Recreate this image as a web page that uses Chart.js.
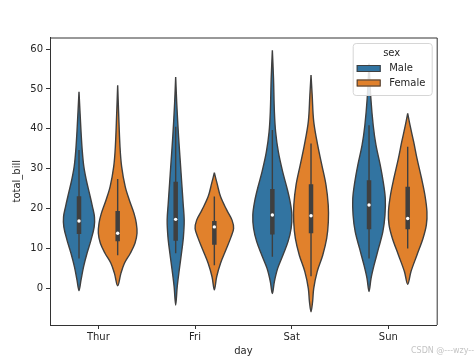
<!DOCTYPE html>
<html>
<head>
<meta charset="utf-8">
<script src="https://cdn.jsdelivr.net/npm/chart.js@4/dist/chart.umd.min.js"></script>
<style>
  body { margin: 0; background: #fff; }
</style>
</head>
<body>
<canvas id="myChart" width="474" height="360"></canvas>
<script>
	// categories / series
	var days = ['Thur', 'Fri', 'Sat', 'Sun'];
	var sexes = ['Male', 'Female'];
	var yTicks = [0, 10, 20, 30, 40, 50, 60];

	// violin outlines: total_bill levels (top -> bottom)
	// and the half width of the violin at that level (in category units)
	var maleLevels = [
		[49.3, 39.7, 34.7, 30.5, 27.1, 23.8, 20.5, 17.9, 15.4, 12.1, 8.8, 5.4, 2.1, -0.6],
		[53.0, 46.4, 38.0, 31.3, 26.3, 21.3, 17.1, 12.9, 8.8, 4.6, 0.4, -4.2],
		[59.7, 52.6, 44.3, 39.2, 34.2, 29.2, 25.1, 21.7, 18.4, 15.0, 11.7, 8.3, 5.0, 1.7, -1.3],
		[56.4, 47.6, 40.9, 35.9, 30.9, 26.7, 22.6, 18.4, 14.2, 10.0, 5.8, 2.5, -0.8]
	];
	var maleWidths = [
		[0, .020, .033, .050, .076, .108, .139, .160, .157, .124, .083, .047, .021, 0],
		[0, .011, .030, .049, .063, .077, .088, .080, .060, .037, .016, 0],
		[0, .012, .021, .034, .062, .107, .152, .184, .202, .194, .162, .109, .055, .021, 0],
		[0, .019, .043, .072, .116, .147, .168, .165, .143, .098, .052, .021, 0]
	];
	var femaleLevels = [
		[50.9, 43.9, 35.5, 30.5, 25.5, 22.1, 18.8, 16.3, 13.8, 11.3, 8.8, 6.3, 3.8, 0.6],
		[29.0, 26.3, 23.0, 19.6, 17.1, 15.0, 12.9, 9.6, 6.3, 2.9, -0.4],
		[53.5, 48.4, 41.8, 35.9, 30.9, 25.9, 20.9, 16.7, 12.5, 8.3, 4.2, 0, -3.4, -5.9],
		[43.9, 40.9, 36.7, 32.6, 27.6, 23.4, 19.2, 15.9, 12.5, 8.3, 4.2, 1.0]
	];
	var femaleWidths = [
		[0, .010, .024, .041, .078, .121, .169, .193, .200, .179, .131, .070, .034, 0],
		[0, .028, .064, .129, .183, .199, .173, .119, .064, .024, 0],
		[0, .012, .028, .069, .112, .155, .178, .179, .162, .121, .064, .028, .016, 0],
		[0, .024, .062, .096, .143, .178, .199, .193, .158, .095, .034, 0]
	];

	// inner box: [whisker low, q1, median, q3, whisker high]
	var maleBox = [
		[7.5, 13.6, 16.9, 23.1, 34.7],
		[8.8, 11.9, 17.3, 26.7, 40.5],
		[7.9, 13.5, 18.4, 24.9, 39.7],
		[7.5, 14.8, 20.9, 27.1, 40.9]
	];
	var femaleBox = [
		[8.3, 11.8, 13.8, 19.4, 27.4],
		[5.8, 10.9, 15.4, 16.9, 23.0],
		[3.0, 13.8, 18.2, 26.1, 36.3],
		[10.0, 14.8, 17.5, 25.5, 35.5]
	];

	var colors = ['#3274a1', '#e1812c'];
	var edge = '#3f3f3f';
	var levels = [maleLevels, femaleLevels];
	var widths = [maleWidths, femaleWidths];
	var boxes = [maleBox, femaleBox];

	function outline(c, lv, w) {
		var pts = [];
		for (var i = 0; i < lv.length; i++) pts.push({ x: c + w[i], y: lv[i] });
		for (var j = lv.length - 2; j >= 0; j--) pts.push({ x: c - w[j], y: lv[j] });
		return pts;
	}

	var violinSets = [];
	var boxSets = [];
	sexes.forEach(function (sex, s) {
		var off = s === 0 ? -0.2 : 0.2;
		days.forEach(function (day, d) {
			var c = d + off;
			var b = boxes[s][d];
			violinSets.push({
				label: sex,
				order: 3,
				data: outline(c, levels[s][d], widths[s][d]),
				showLine: true,
				fill: 'shape',
				backgroundColor: colors[s],
				borderColor: edge,
				borderWidth: 1.4,
				pointRadius: 0,
				tension: 0.35
			});
			// whisker line
			boxSets.push({
				order: 2,
				data: [{ x: c, y: b[0] }, { x: c, y: b[4] }],
				showLine: true, borderColor: edge, borderWidth: 1.4, pointRadius: 0
			});
			// thick box q1..q3
			boxSets.push({
				order: 1,
				data: [{ x: c, y: b[1] }, { x: c, y: b[3] }],
				showLine: true, borderColor: edge, borderWidth: 4.5, borderCapStyle: 'butt', pointRadius: 0
			});
			// median dot
			boxSets.push({
				order: 0,
				data: [{ x: c, y: b[2] }],
				showLine: false, pointRadius: 1.7, pointBackgroundColor: '#fff', pointBorderWidth: 0
			});
		});
	});

	// top/right spines, legend box and watermark
	var extras = {
		id: 'extras',
		afterDraw: function (chart) {
			var ctx = chart.ctx, a = chart.chartArea;
			ctx.save();
			ctx.strokeStyle = '#333';
			ctx.lineWidth = 1;
			ctx.beginPath();
			ctx.moveTo(a.left, a.top + 0.5);
			ctx.lineTo(a.right + 0.5, a.top + 0.5);
			ctx.lineTo(a.right + 0.5, a.bottom);
			ctx.stroke();

			var lx = a.right - 84, ly = a.top + 5.5, lw = 79, lh = 52;
			ctx.fillStyle = 'rgba(255,255,255,0.85)';
			ctx.strokeStyle = '#d6d6d6';
			ctx.beginPath();
			ctx.roundRect(lx + 0.5, ly + 0.5, lw, lh, 3);
			ctx.fill();
			ctx.stroke();

			ctx.font = '10px "DejaVu Sans"';
			ctx.fillStyle = '#262626';
			ctx.textBaseline = 'middle';
			ctx.textAlign = 'center';
			ctx.fillText('sex', lx + 39, ly + 10);
			ctx.textAlign = 'left';
			sexes.forEach(function (sex, s) {
				var py = ly + 22 + s * 14.5;
				ctx.fillStyle = colors[s];
				ctx.strokeStyle = edge;
				ctx.fillRect(lx + 4, py, 24, 7);
				ctx.strokeRect(lx + 4.5, py + 0.5, 23, 6);
				ctx.fillStyle = '#262626';
				ctx.fillText(sex, lx + 36.5, py + 3.5);
			});

			ctx.font = '8px "DejaVu Sans"';
			ctx.fillStyle = '#c4c4c4';
			ctx.fillText('CSDN @---wzy---', 411, 351);
			ctx.restore();
		}
	};

	var config = {
		type: 'scatter',
		data: { datasets: violinSets.concat(boxSets) },
		options: {
			responsive: false,
			animation: false,
			layout: { padding: { top: 37.5, right: 37.3, left: 0, bottom: 0 } },
			plugins: {
				legend: { display: false },
				tooltip: { enabled: false }
			},
			scales: {
				x: {
					type: 'linear',
					min: -0.5,
					max: 3.5,
					afterBuildTicks: function (sc) { sc.ticks = days.map(function (d, i) { return { value: i }; }); },
					afterFit: function (sc) { sc.height = 35; },
					ticks: {
						color: '#262626',
						font: { family: 'DejaVu Sans', size: 10 },
						padding: 2,
						maxRotation: 0,
						callback: function (v) { return days[v]; }
					},
					grid: { display: true, drawOnChartArea: false, drawTicks: true, tickLength: 4, color: '#333', lineWidth: 1 },
					border: { display: true, color: '#333', width: 1 },
					title: { display: true, text: 'day', color: '#262626', font: { family: 'DejaVu Sans', size: 10 }, padding: { top: 0, bottom: 3 } }
				},
				y: {
					type: 'linear',
					min: -9.2,
					max: 62.9,
					afterBuildTicks: function (sc) { sc.ticks = yTicks.map(function (v) { return { value: v }; }); },
					afterFit: function (sc) { sc.width = 50; },
					ticks: {
						color: '#262626',
						font: { family: 'DejaVu Sans', size: 10 },
						padding: 3
					},
					grid: { display: true, drawOnChartArea: false, drawTicks: true, tickLength: 4, color: '#333', lineWidth: 1 },
					border: { display: true, color: '#333', width: 1 },
					title: { display: true, text: 'total_bill', color: '#262626', font: { family: 'DejaVu Sans', size: 10 }, padding: { top: 11, bottom: 0 } }
				}
			}
		},
		plugins: [extras]
	};

	var myChart = new Chart(document.getElementById('myChart'), config);
</script>
</body>
</html>
